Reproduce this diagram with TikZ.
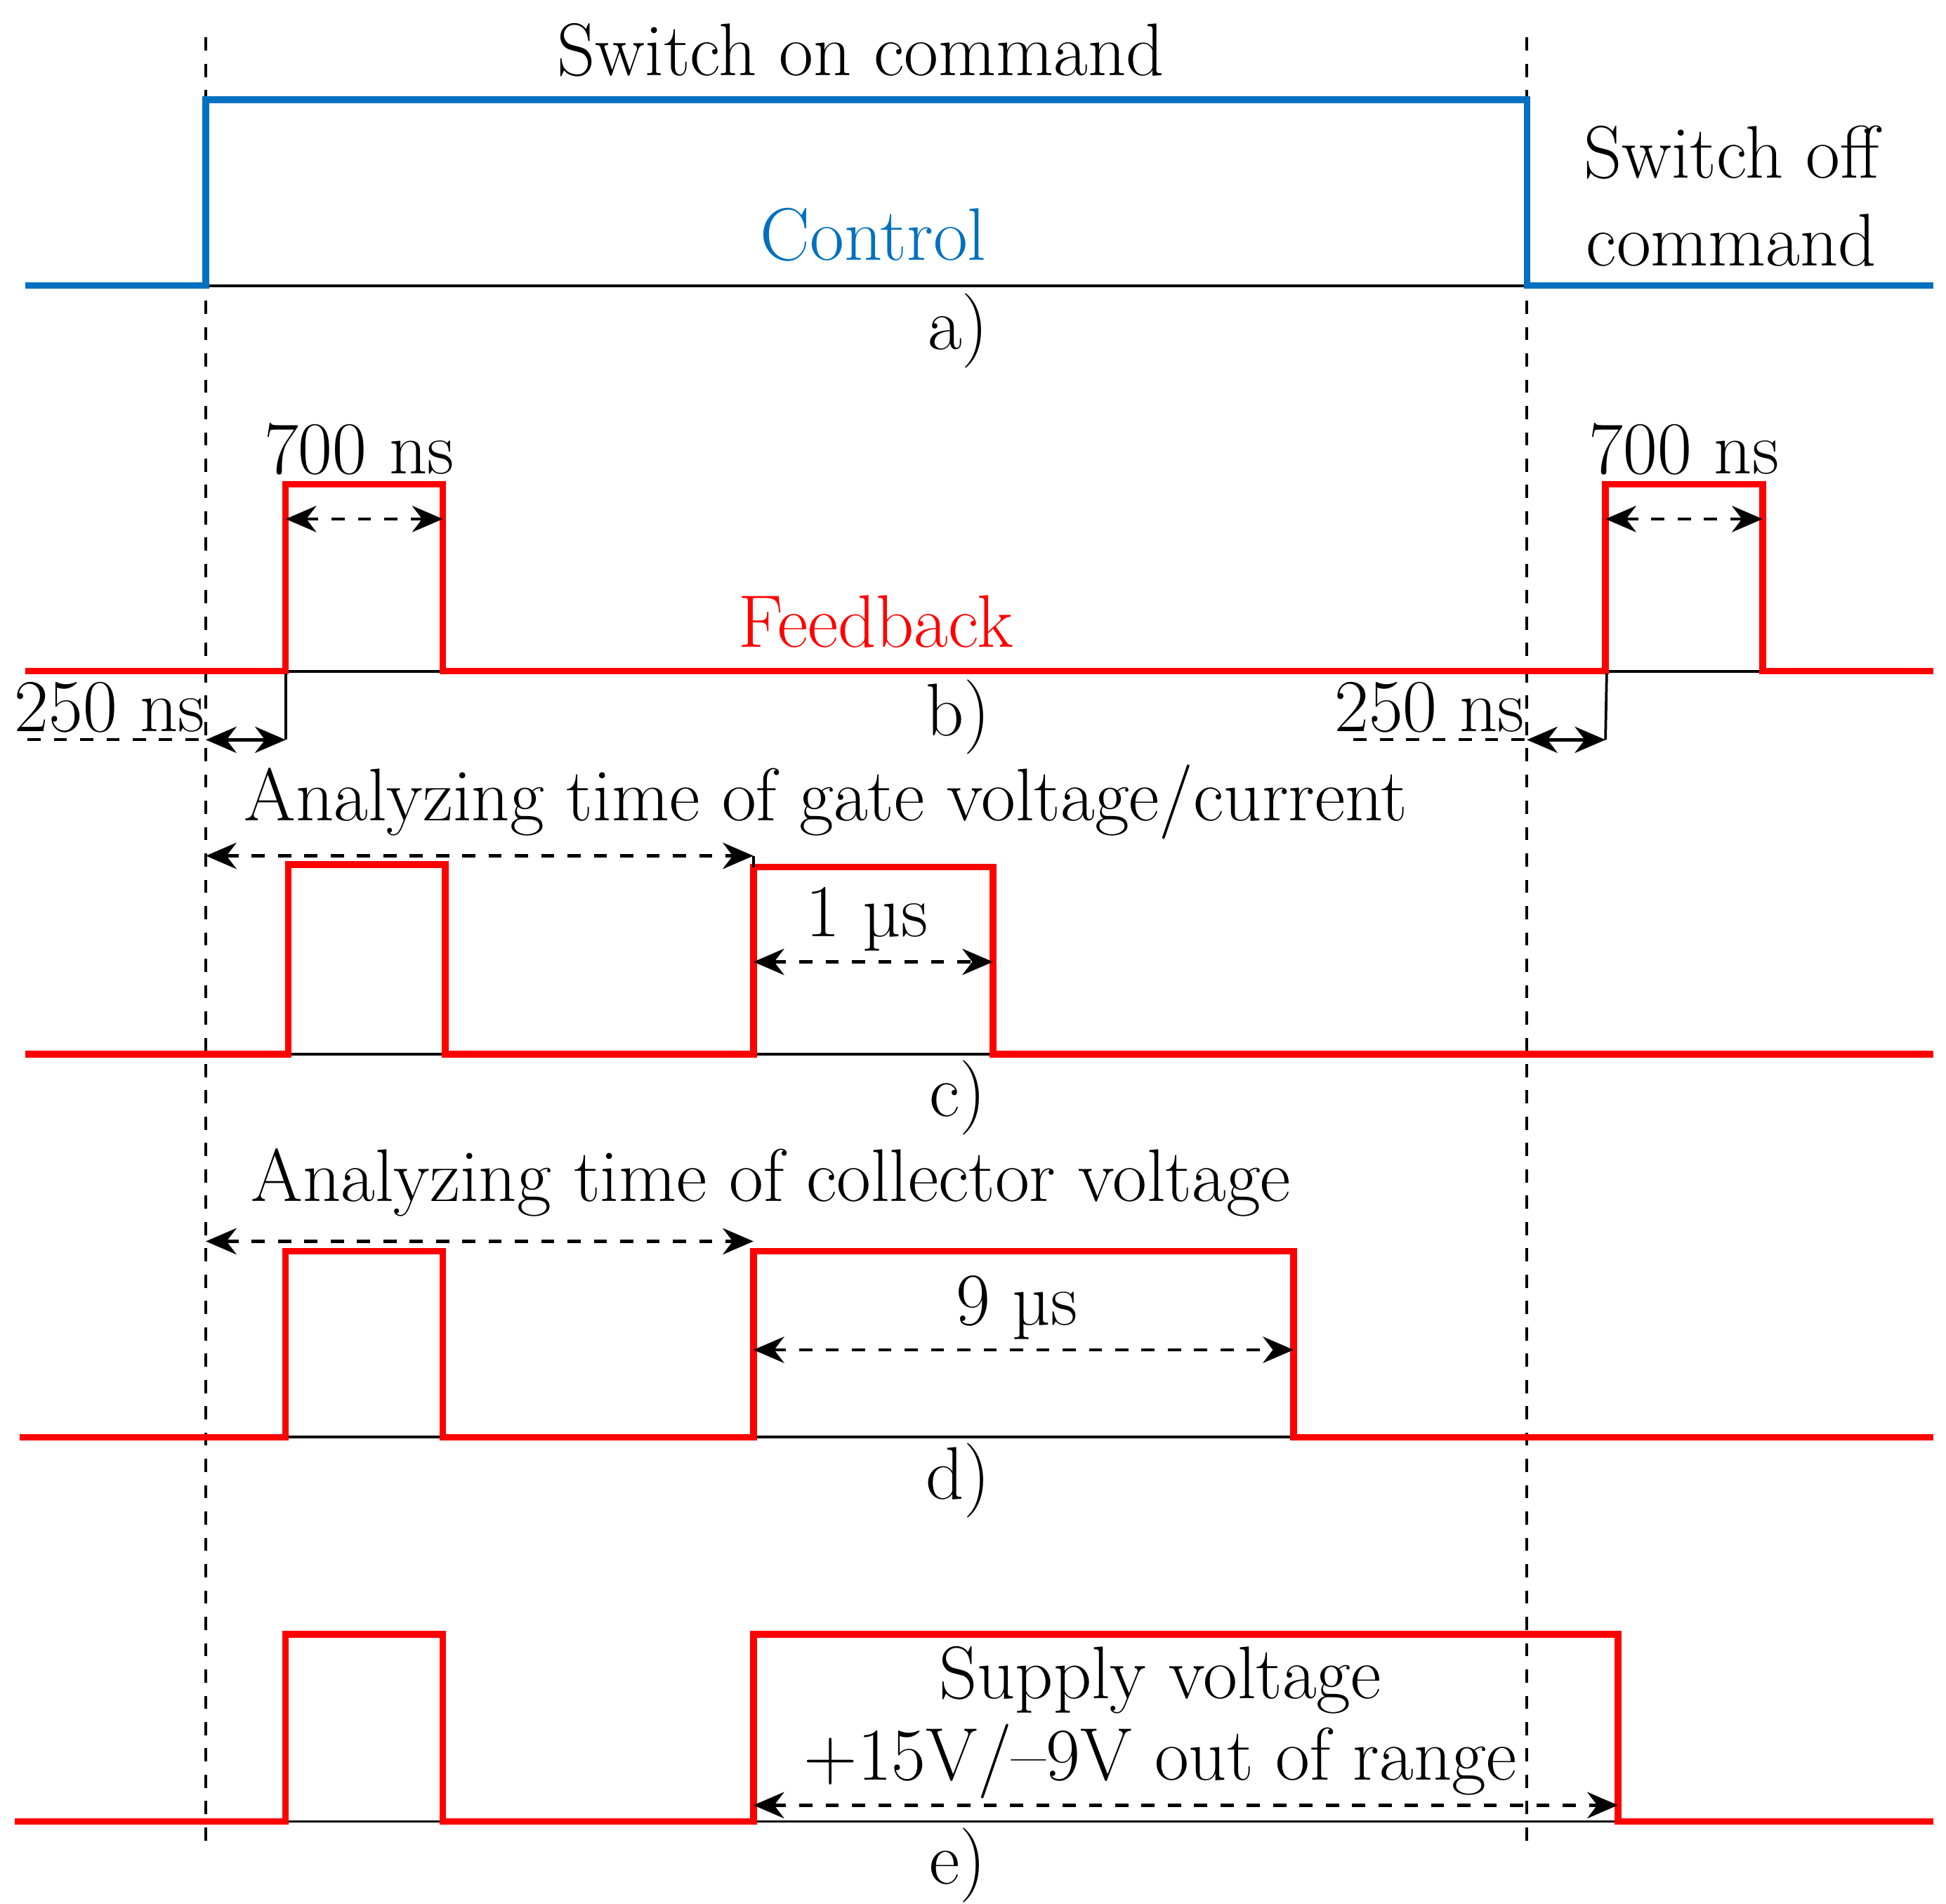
\documentclass[tikz,border=0pt]{standalone}
\usetikzlibrary{arrows.meta}
\definecolor{ctrl}{RGB}{0,112,192}
\begin{document}
\begin{tikzpicture}[x=0.01cm,y=-0.01cm,
  sig/.style={red,line width=1.5pt},
  base/.style={black,line width=0.6pt},
  guide/.style={black,dashed,line width=0.6pt},
  dim/.style={black,dashed,line width=0.7pt,{Stealth[length=7pt,width=6pt]}-{Stealth[length=7pt,width=6pt]}},
  sdim/.style={black,line width=0.7pt,{Stealth[length=7pt,width=6pt]}-{Stealth[length=7pt,width=6pt]}},
  lbl/.style={font=\fontsize{17}{20}\selectfont,inner sep=0pt}]
\useasboundingbox (0,0) rectangle (1560,1526);
% guides
\draw[guide] (165,30) -- (165,1482);
\draw[guide] (1224,30) -- (1224,1482);
% a)
\draw[base] (165,229) -- (1224,229);
\draw[ctrl,line width=1.5pt] (20,229) -- (165,229) -- (165,80) -- (1224,80) -- (1224,229) -- (1550,229);
\node[lbl] (son) at (690,40) {Switch on command};
\node[lbl,text=ctrl] (ctl) at (700,188) {Control};
\node[lbl,align=center] (soff) at (1388,157) {Switch off\\command};
\node[lbl] (la) at (768,265) {a)};
% b)
\draw[base] (229,538) -- (355,538) (1287,538) -- (1413,538);
\draw[sig] (20,538) -- (229,538) -- (229,388) -- (355,388) -- (355,538) -- (1287,538) -- (1287,388) -- (1413,388) -- (1413,538) -- (1550,538);
\coordinate (b1) at (229,416); \coordinate (b2) at (355,416);
\coordinate (b3) at (1287,416); \coordinate (b4) at (1413,416);
\draw[dim] (b1) -- (b2);
\draw[dim] (b3) -- (b4);
\node[lbl] (t700a) at (288,360) {700 ns};
\node[lbl] (t700b) at (1350,360) {700 ns};
\node[lbl,text=red] (fb) at (702,498) {Feedback};
\node[lbl] (lb) at (768,575) {b)};
\node[lbl] (t250a) at (88,567) {250 ns};
\node[lbl] (t250b) at (1146,567) {250 ns};
\coordinate (d0) at (22,593); \coordinate (d1) at (165,593); \coordinate (d2) at (229,593);
\draw[guide] (d0) -- (d1);
\draw[sdim] (d1) -- (d2);
\draw[base] (229,540) -- (d2);
\coordinate (e0) at (1085,593); \coordinate (e1) at (1224,593); \coordinate (e2) at (1287,593);
\draw[guide] (e0) -- (e1);
\draw[sdim] (e1) -- (e2);
\draw[base] (1288,540) -- (e2);
% c)
\draw[base] (231,845) -- (796,845);
\draw[sig] (20,845) -- (231,845) -- (231,693) -- (357,693) -- (357,845) -- (604,845) -- (604,695) -- (796,695) -- (796,845) -- (1550,845);
\coordinate (c1) at (165,686); \coordinate (c2) at (604,686);
\draw[dim] (c1) -- (c2);
\draw[base] (c2) -- (604,695);
\node[lbl] (tc) at (662,643) {Analyzing time of gate voltage/current};
\coordinate (c3) at (604,771); \coordinate (c4) at (796,771);
\draw[dim] (c3) -- (c4);
\node[lbl] (t1) at (695,737) {1 µs};
\node[lbl] (lc) at (768,880) {c)};
% d)
\draw[base] (229,1152) -- (1037,1152);
\draw[sig] (16,1152) -- (229,1152) -- (229,1003) -- (355,1003) -- (355,1152) -- (604,1152) -- (604,1003) -- (1037,1003) -- (1037,1152) -- (1550,1152);
\coordinate (f1) at (165,995); \coordinate (f2) at (604,995);
\draw[dim] (f1) -- (f2);
\node[lbl] (td) at (618,948) {Analyzing time of collector voltage};
\coordinate (f3) at (604,1082); \coordinate (f4) at (1037,1082);
\draw[dim] (f3) -- (f4);
\node[lbl] (t9) at (815,1048) {9 µs};
\node[lbl] (ld) at (768,1187) {d)};
% e)
\draw[base] (229,1460) -- (1297,1460);
\draw[sig] (12,1460) -- (229,1460) -- (229,1310) -- (355,1310) -- (355,1460) -- (604,1460) -- (604,1310) -- (1297,1310) -- (1297,1460) -- (1550,1460);
\coordinate (g1) at (604,1447); \coordinate (g2) at (1297,1447);
\draw[dim] (g1) -- (g2);
\node[lbl] (ts1) at (930,1347) {Supply voltage};
\node[lbl] (ts2) at (930,1412) {+15V/–9V out of range};
\node[lbl] (le) at (768,1495) {e)};
\end{tikzpicture}
\end{document}
